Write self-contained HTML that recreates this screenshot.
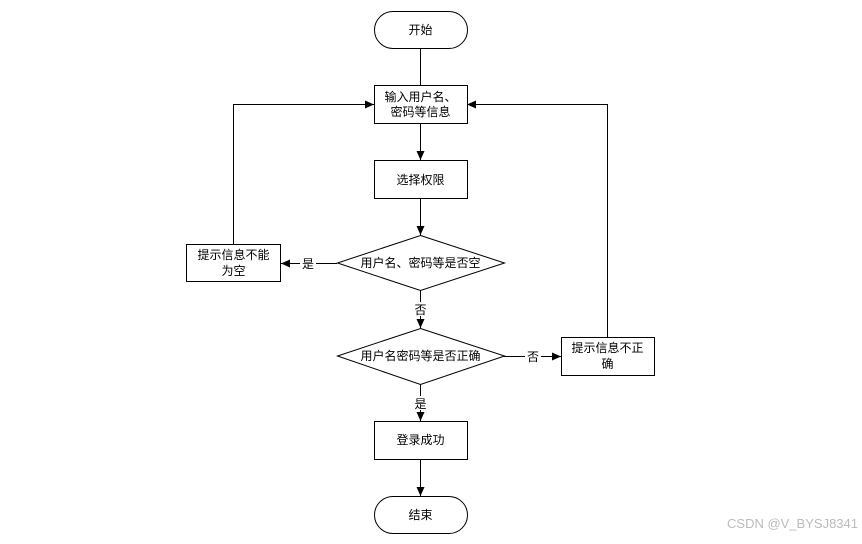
<!DOCTYPE html>
<html><head><meta charset="utf-8"><style>
body{margin:0;background:#fff}
svg text{font-family:"Liberation Sans","Noto Sans CJK SC",sans-serif;font-size:12px;fill:#000}
</style></head><body>
<svg width="862" height="539" viewBox="0 0 862 539" xmlns="http://www.w3.org/2000/svg">
<defs><marker id="a" markerWidth="10" markerHeight="10" refX="9" refY="5" orient="auto" markerUnits="userSpaceOnUse"><path d="M0,1 L9,5 L0,9 Z" fill="#000"/></marker></defs>
<g fill="#fff" stroke="#000" stroke-width="1">
<rect x="374.5" y="11.5" width="93" height="37" rx="18.5"/>
<rect x="374.5" y="85.5" width="93" height="38"/>
<rect x="374.5" y="160.5" width="93" height="38"/>
<polygon points="420.5,235.5 504.5,263 420.5,290.5 337.5,263"/>
<rect x="186.5" y="244.5" width="94" height="37"/>
<polygon points="420.5,328.5 504.5,356 420.5,384.5 337.5,356"/>
<rect x="561.5" y="337.5" width="93" height="38"/>
<rect x="374.5" y="421.5" width="93" height="38"/>
<rect x="374.5" y="496.5" width="93" height="37" rx="18.5"/>
</g>
<g fill="none" stroke="#000" stroke-width="1">
<line x1="420.5" y1="48" x2="420.5" y2="85"/>
<line x1="420.5" y1="123" x2="420.5" y2="160" marker-end="url(#a)"/>
<line x1="420.5" y1="198" x2="420.5" y2="235" marker-end="url(#a)"/>
<line x1="337" y1="263.5" x2="281" y2="263.5" marker-end="url(#a)"/>
<polyline points="233.5,244 233.5,104.5 374,104.5" marker-end="url(#a)"/>
<line x1="420.5" y1="290" x2="420.5" y2="328" marker-end="url(#a)"/>
<line x1="504" y1="356.5" x2="561" y2="356.5" marker-end="url(#a)"/>
<polyline points="607.5,337 607.5,104.5 467,104.5" marker-end="url(#a)"/>
<line x1="420.5" y1="384" x2="420.5" y2="421" marker-end="url(#a)"/>
<line x1="420.5" y1="459" x2="420.5" y2="496" marker-end="url(#a)"/>
</g>
<g text-anchor="middle">
<text x="420.5" y="34">开始</text>
<text x="420.5" y="101">输入用户名、</text>
<text x="420.5" y="116">密码等信息</text>
<text x="420.5" y="184">选择权限</text>
<text x="420.5" y="267">用户名、密码等是否空</text>
<rect x="300" y="256" width="16" height="14" fill="#fff"/>
<text x="308" y="268">是</text>
<text x="233.5" y="259">提示信息不能</text>
<text x="233.5" y="275">为空</text>
<rect x="413" y="302" width="15" height="14" fill="#fff"/>
<text x="420.5" y="314">否</text>
<text x="420.5" y="360">用户名密码等是否正确</text>
<rect x="525" y="349" width="16" height="14" fill="#fff"/>
<text x="533" y="361">否</text>
<text x="607.5" y="352">提示信息不正</text>
<text x="607.5" y="368">确</text>
<rect x="413" y="396" width="15" height="14" fill="#fff"/>
<text x="420.5" y="408">是</text>
<text x="420.5" y="444">登录成功</text>
<text x="420.5" y="519">结束</text>
</g>
<text x="858" y="528" text-anchor="end" style="font-size:13px;fill:#bbb">CSDN @V_BYSJ8341</text>
</svg>
</body></html>
